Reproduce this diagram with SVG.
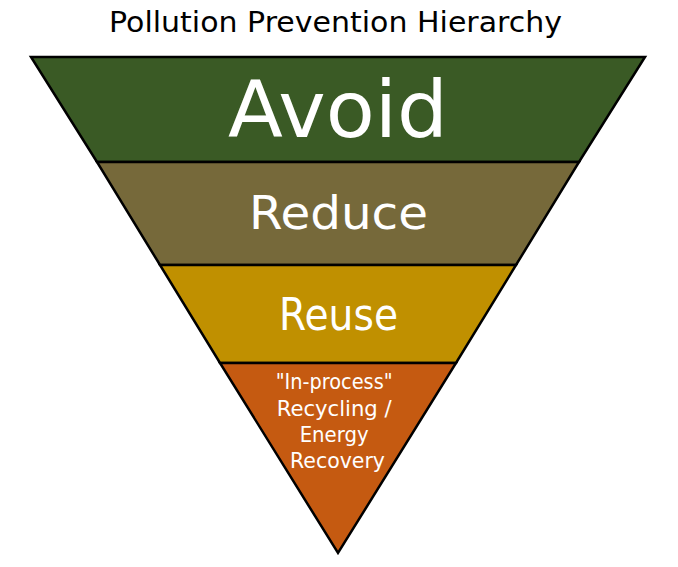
<svg xmlns="http://www.w3.org/2000/svg" width="678" height="567" viewBox="0 0 678 567">
<style>
.band{stroke:#000;stroke-width:2.5;stroke-linejoin:miter}
.lbl{font-family:"DejaVu Sans","Liberation Sans",sans-serif;fill:#fff;text-anchor:middle}
.title{font-family:"DejaVu Sans","Liberation Sans",sans-serif;fill:#000;text-anchor:middle;font-size:29px}
</style>
<rect width="678" height="567" fill="#fff"/>
<text class="title" x="335.5" y="32" textLength="453" lengthAdjust="spacingAndGlyphs">Pollution Prevention Hierarchy</text>
<g id="avoid">
<polygon class="band" fill="#3A5A25" points="31,57 645,57 579,162 97,162"/>
<text class="lbl" x="338" y="137" font-size="78" textLength="220" lengthAdjust="spacingAndGlyphs">Avoid</text>
</g>
<g id="reduce">
<polygon class="band" fill="#76693A" points="97,162 579,162 516,265 160,265"/>
<text class="lbl" x="338.5" y="229" font-size="46" textLength="179" lengthAdjust="spacingAndGlyphs">Reduce</text>
</g>
<g id="reuse">
<polygon class="band" fill="#C09000" points="160,265 516,265 456,363 220,363"/>
<text class="lbl" x="338.5" y="330" font-size="44" textLength="119" lengthAdjust="spacingAndGlyphs">Reuse</text>
</g>
<g id="recycling">
<polygon class="band" fill="#C55A11" points="220,363 456,363 338,553"/>
<text class="lbl" font-size="21">
<tspan x="337.5" y="389" textLength="117" lengthAdjust="spacingAndGlyphs">"In-process"</tspan>
<tspan x="337.5" y="416" textLength="115" lengthAdjust="spacingAndGlyphs">Recycling /</tspan>
<tspan x="337.5" y="442" textLength="69" lengthAdjust="spacingAndGlyphs">Energy</tspan>
<tspan x="337.5" y="468" textLength="95" lengthAdjust="spacingAndGlyphs">Recovery</tspan>
</text>
</g>
<g id="connectors"/>
</svg>
